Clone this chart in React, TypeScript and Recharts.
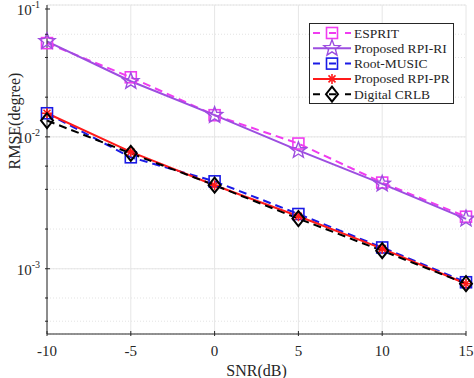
import React from 'react';
import {
  LineChart,
  Line,
  XAxis,
  YAxis,
  CartesianGrid,
  ReferenceLine,
} from 'recharts';

// SNR points (dB)
const snr = [-10, -5, 0, 5, 10, 15];

// RMSE values (degree)
const esprit = [0.0514, 0.0283, 0.0146, 0.0089, 0.0045, 0.00248];
const rpiRI = [0.053, 0.0264, 0.0146, 0.0079, 0.0044, 0.00239];
const rootMusic = [0.0151, 0.007, 0.0046, 0.0026, 0.00145, 0.00079];
const rpiPR = [0.0151, 0.0077, 0.0043, 0.0025, 0.00142, 0.00077];
const crlb = [0.0133, 0.0075, 0.0043, 0.0024, 0.00137, 0.00077];

const decades = [0.001, 0.01, 0.1];
const decadeLabels = ['-3', '-2', '-1'];
const yTicks = [
  0.0004, 0.0005, 0.0006, 0.0007, 0.0008, 0.0009,
  0.001, 0.002, 0.003, 0.004, 0.005, 0.006, 0.007, 0.008, 0.009,
  0.01, 0.02, 0.03, 0.04, 0.05, 0.06, 0.07, 0.08, 0.09, 0.1,
];

const data = snr.map((s, i) => ({
  snr: s,
  esprit: esprit[i],
  rpiRI: rpiRI[i],
  rootMusic: rootMusic[i],
  rpiPR: rpiPR[i],
  crlb: crlb[i],
}));

const FONT = '"Liberation Serif", "Times New Roman", serif';

const starPoints = (cx: number, cy: number, ro: number, ri: number) => {
  const pts: string[] = [];
  for (let k = 0; k < 10; k++) {
    const r = k % 2 === 0 ? ro : ri;
    const a = -Math.PI / 2 + (k * Math.PI) / 5;
    pts.push(`${cx + r * Math.cos(a)},${cy + r * Math.sin(a)}`);
  }
  return pts.join(' ');
};

const Marker = ({ kind, cx, cy, color }: { kind: string; cx: number; cy: number; color: string }) => {
  if (kind === 'square') {
    return <rect x={cx - 5.5} y={cy - 5.5} width={11} height={11} fill="none" stroke={color} strokeWidth={1.6} />;
  }
  if (kind === 'star') {
    return <polygon points={starPoints(cx, cy, 8.5, 3.6)} fill="none" stroke={color} strokeWidth={1.4} />;
  }
  if (kind === 'asterisk') {
    const r = 5;
    return (
      <g stroke={color} strokeWidth={1.6}>
        <line x1={cx - r} y1={cy} x2={cx + r} y2={cy} />
        <line x1={cx} y1={cy - r} x2={cx} y2={cy + r} />
        <line x1={cx - r * 0.7} y1={cy - r * 0.7} x2={cx + r * 0.7} y2={cy + r * 0.7} />
        <line x1={cx - r * 0.7} y1={cy + r * 0.7} x2={cx + r * 0.7} y2={cy - r * 0.7} />
      </g>
    );
  }
  // diamond
  return (
    <polygon
      points={`${cx},${cy - 7.5} ${cx + 6},${cy} ${cx},${cy + 7.5} ${cx - 6},${cy}`}
      fill="none"
      stroke={color}
      strokeWidth={2}
    />
  );
};

const series = [
  { key: 'esprit', name: 'ESPRIT', color: '#f03cf0', dash: '8 5', marker: 'square' },
  { key: 'rpiRI', name: 'Proposed RPI-RI', color: '#9d4ee0', dash: undefined, marker: 'star' },
  { key: 'rootMusic', name: 'Root-MUSIC', color: '#1a1ae6', dash: '8 5', marker: 'square' },
  { key: 'rpiPR', name: 'Proposed RPI-PR', color: '#ff1a1a', dash: undefined, marker: 'asterisk' },
  { key: 'crlb', name: 'Digital CRLB', color: '#000000', dash: '8 5', marker: 'diamond' },
];

const isDecade = (v: number) => decades.some((d) => Math.abs(d - v) < 1e-9);

const LeftTick = (props: any) => {
  const { x, y, payload } = props;
  const v = payload.value;
  const major = isDecade(v);
  const idx = decades.findIndex((d) => Math.abs(d - v) < 1e-9);
  return (
    <g>
      <line x1={x} y1={y} x2={x + (major ? 5 : 3)} y2={y} stroke="#262626" strokeWidth={1} />
      {major && (
        <text x={x - 5} y={y + 6} textAnchor="end" fontFamily={FONT} fontSize={15} fill="#262626">
          10
          <tspan dy={-7} fontSize={10}>{decadeLabels[idx]}</tspan>
        </text>
      )}
    </g>
  );
};

const RightTick = (props: any) => {
  const { x, y, payload } = props;
  const major = isDecade(payload.value);
  return <line x1={x} y1={y} x2={x - (major ? 5 : 3)} y2={y} stroke="#262626" strokeWidth={1} />;
};

const BottomTick = (props: any) => {
  const { x, y, payload } = props;
  return (
    <g>
      <line x1={x} y1={y} x2={x} y2={y - 5} stroke="#262626" strokeWidth={1} />
      <text x={x} y={y + 20} textAnchor="middle" fontFamily={FONT} fontSize={15} fill="#262626">
        {payload.value}
      </text>
    </g>
  );
};

const TopTick = (props: any) => {
  const { x, y } = props;
  return <line x1={x} y1={y} x2={x} y2={y + 5} stroke="#262626" strokeWidth={1} />;
};

const LegendBox = () => (
  <svg width={145} height={81} style={{ display: 'block' }}>
    <rect x={0.5} y={0.5} width={144} height={80} fill="#fff" stroke="#262626" strokeWidth={1} />
    {series.map((s, i) => {
      const cy = 10 + i * 15.3;
      return (
        <g key={s.key}>
          <line x1={4} y1={cy} x2={42} y2={cy} stroke={s.color} strokeWidth={2} strokeDasharray={s.dash ? '7 9' : undefined} />
          <Marker kind={s.marker} cx={23} cy={cy} color={s.color} />
          <text x={45} y={cy + 4.5} fontFamily={FONT} fontSize={13.5} fill="#262626">
            {s.name}
          </text>
        </g>
      );
    })}
  </svg>
);

export default function App() {
  return (
    <div style={{ position: 'absolute', left: 0, top: 0, width: 474, height: 378, background: '#fff' }}>
      <LineChart width={474} height={378} data={data} margin={{ top: 5, right: 8, bottom: 24, left: 7 }}>
        <CartesianGrid vertical={false} stroke="#e3e3e3" strokeDasharray="1 2" />
        <CartesianGrid horizontal={false} stroke="#e6e6e6" />
        {decades.map((d) => (
          <ReferenceLine key={d} y={d} stroke="#e6e6e6" />
        ))}
        <XAxis
          type="number"
          dataKey="snr"
          domain={[-10, 15]}
          ticks={snr}
          tickSize={0}
          tickLine={false}
          tick={<BottomTick />}
          height={20}
          stroke="#262626"
          label={{ value: 'SNR(dB)', position: 'insideBottom', offset: -22, fontFamily: FONT, fontSize: 16, fill: '#262626' }}
        />
        <XAxis
          xAxisId="top"
          orientation="top"
          type="number"
          dataKey="snr"
          domain={[-10, 15]}
          ticks={snr}
          tickSize={0}
          tickLine={false}
          tick={<TopTick />}
          height={0}
          stroke="#262626"
        />
        <YAxis
          scale="log"
          type="number"
          domain={[0.00032, 0.1]}
          ticks={yTicks}
          allowDataOverflow
          tickSize={0}
          tickLine={false}
          tick={<LeftTick />}
          width={40}
          stroke="#262626"
          label={{ value: 'RMSE(degree)', angle: -90, position: 'insideLeft', offset: 7, fontFamily: FONT, fontSize: 16, fill: '#262626' }}
        />
        <YAxis
          yAxisId="right"
          orientation="right"
          scale="log"
          type="number"
          domain={[0.00032, 0.1]}
          ticks={yTicks}
          allowDataOverflow
          tickSize={0}
          tickLine={false}
          tick={<RightTick />}
          width={0}
          stroke="#262626"
        />
        {series.map((s) => (
          <Line
            key={s.key}
            type="linear"
            dataKey={s.key}
            name={s.name}
            stroke={s.color}
            strokeWidth={2}
            strokeDasharray={s.dash}
            isAnimationActive={false}
            dot={(p: any) => <Marker key={`${s.key}-${p.index}`} kind={s.marker} cx={p.cx} cy={p.cy} color={s.color} />}
            activeDot={false}
          />
        ))}
      </LineChart>
      <div style={{ position: 'absolute', left: 309, top: 23 }}>
        <LegendBox />
      </div>
    </div>
  );
}
